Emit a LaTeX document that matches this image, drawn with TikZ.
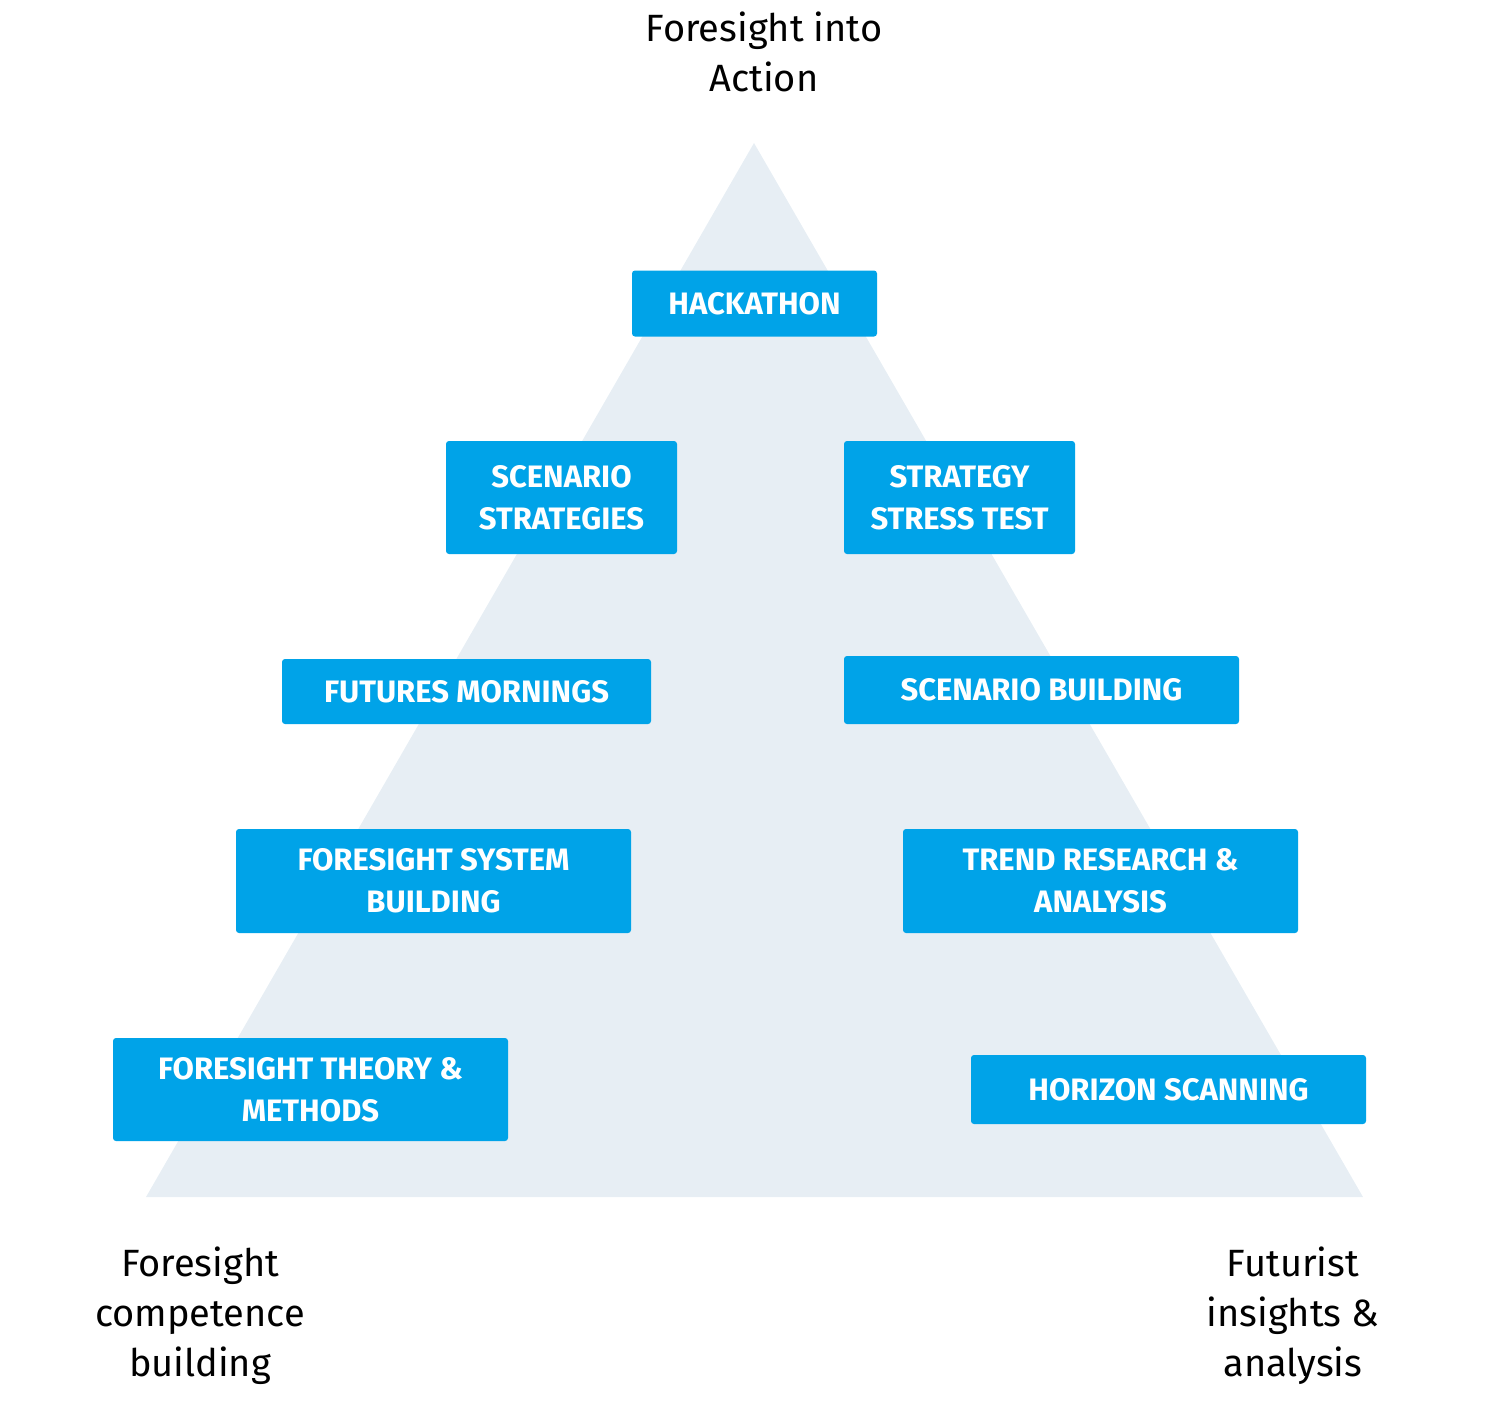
\documentclass[tikz,border=0pt]{standalone}
\usepackage{fontspec}
\setmainfont{Fira Sans}
\definecolor{tri}{HTML}{E7EEF4}
\definecolor{boxc}{HTML}{00A3E8}
\begin{document}
\begin{tikzpicture}[x=0.5pt,y=-0.5pt,
  box/.style={fill=boxc,rounded corners=1.5pt,text=white,font=\fontsize{15.5pt}{21pt}\selectfont\bfseries,align=center,inner sep=0pt},
  lab/.style={font=\fontsize{19pt}{25pt}\selectfont,align=center,text=black}]
\useasboundingbox (0,0) rectangle (1500,1421);
\fill[tri] (754,143) -- (1363,1197) -- (146,1197) -- cycle;
\node[box,minimum width=122.5pt,minimum height=33pt] (hack) at (754.5,303.5) {HACKATHON};
\node[box,minimum width=115.5pt,minimum height=56.5pt] (sstrat) at (561.5,497.5) {SCENARIO\\STRATEGIES};
\node[box,minimum width=115.5pt,minimum height=56.5pt] (stress) at (959.5,497.5) {STRATEGY\\STRESS TEST};
\node[box,minimum width=184.5pt,minimum height=32.5pt] (fm) at (466.5,691.5) {FUTURES MORNINGS};
\node[box,minimum width=197.5pt,minimum height=34pt] (sb) at (1041.5,690) {SCENARIO BUILDING};
\node[box,minimum width=197.5pt,minimum height=52pt] (fsb) at (433.5,881) {FORESIGHT SYSTEM\\BUILDING};
\node[box,minimum width=197.5pt,minimum height=52pt] (tra) at (1100.5,881) {TREND RESEARCH \&\\ANALYSIS};
\node[box,minimum width=197.5pt,minimum height=51.5pt] (ftm) at (310.5,1089.5) {FORESIGHT THEORY \&\\METHODS};
\node[box,minimum width=197.5pt,minimum height=34.5pt] (hs) at (1168.5,1089.5) {HORIZON SCANNING};
\node[lab] (top) at (764,52) {Foresight into\\Action};
\node[lab] (left) at (200,1316) {Foresight\\competence\\building};
\node[lab] (right) at (1293,1316) {Futurist\\insights \&\\analysis};
\end{tikzpicture}
\end{document}
